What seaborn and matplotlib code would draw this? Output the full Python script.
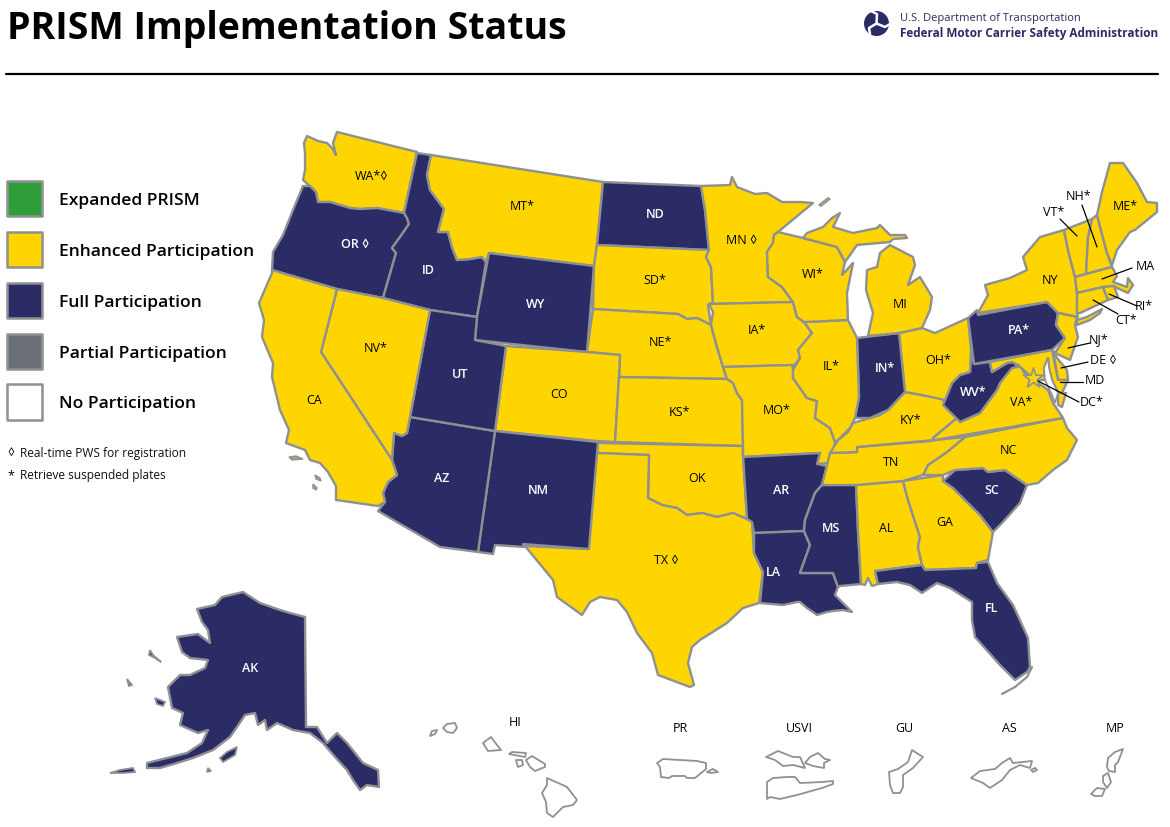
import matplotlib
matplotlib.use("Agg")
import matplotlib.pyplot as plt
import pandas as pd
import seaborn as sns
from matplotlib.patches import Circle

sns.set_theme(style="white")
FONT = ["Open Sans", "DejaVu Sans"]
plt.rcParams["font.family"] = FONT

# ---- categories and legend ----
LEGEND_NAMES = ["Expanded PRISM", "Enhanced Participation", "Full Participation",
                "Partial Participation", "No Participation"]
LEGEND_COLORS = ["#2E9E3A", "#FFD500", "#2B2C66", "#6A6E77", "#FFFFFF"]
LEGEND_Y = [198.5, 249.5, 300.5, 351.5, 402]
FOOTNOTES = ["Real-time PWS for registration", "Retrieve suspended plates"]
FULL = ["OR", "ID", "WY", "ND", "UT", "AZ", "NM", "AR", "LA", "MS", "IN", "WV", "PA", "SC", "FL", "AK"]

# ---- state outlines, in the reference map's own coordinates ----
WA = [(307,136),(318,141),(327,143),(332,148),(336,155),(333,143),(337,132),(417,152),(404,213),(377,208),(360,209),(350,208),(330,202),(318,202),(316,192),(310,186),(303,180),(305,170),(305,153),(304,143)]
OR = [(303,186),(310,186),(316,192),(318,202),(330,202),(350,208),(360,209),(377,208),(404,213),(407,218),(409,224),(400,237),(392,248),(396,253),(383,298),(337,289),(272,270),(273,252),(283,235),(293,210)]
ID = [(417,153),(431,155),(427,175),(430,190),(444,209),(438,232),(448,232),(452,247),(457,260),(470,259),(482,257),(486,262),(477,317),(430,310),(383,298),(396,253),(392,248),(400,237),(409,224),(407,218),(404,213)]
MT = [(431,155),(603,182),(597,245),(594,266),(489,253),(486,262),(482,257),(470,259),(457,260),(452,247),(448,232),(438,232),(444,209),(430,190),(427,175)]
WY = [(489,253),(594,266),(587,352),(475,340),(477,317)]
ND = [(603,182),(701,186),(705,210),(709,250),(597,245)]
SD = [(597,245),(709,250),(706,257),(711,267),(713,303),(708,305),(711,325),(707,323),(697,318),(687,319),(678,314),(593,309),(594,266)]
NE = [(593,309),(678,314),(687,319),(697,318),(707,323),(711,325),(717,347),(723,367),(727,379),(619,377),(620,355),(587,352)]
CO = [(506,346),(587,352),(620,355),(619,377),(615,442),(597,441),(495,431)]
KS = [(619,377),(727,379),(733,383),(737,393),(742,400),(743,446),(615,442)]
OK = [(598,443),(743,446),(743,455),(747,519),(733,513),(717,517),(702,513),(687,515),(677,508),(662,505),(648,498),(649,455),(597,453)]
TX = [(597,453),(649,455),(648,498),(662,505),(677,508),(687,515),(702,513),(717,517),(733,513),(747,519),(752,522),(754,553),(763,572),(759,603),(743,608),(727,623),(700,640),(692,647),(688,663),(694,685),(690,687),(658,675),(652,653),(637,633),(627,612),(617,600),(600,597),(590,602),(582,615),(557,597),(553,580),(525,546),(588,549)]
NM = [(495,431),(598,442),(597,453),(589,549),(523,544),(524,547),(495,545),(493,554),(478,552)]
AZ = [(410,417),(495,431),(478,552),(440,547),(378,511),(385,502),(383,493),(388,482),(397,475),(392,460),(394,433),(402,436),(407,433)]
UT = [(430,310),(477,317),(475,340),(506,346),(495,431),(410,417)]
NV = [(337,289),(383,298),(430,310),(410,417),(407,433),(402,436),(394,433),(392,460),(321,352)]
CA = [(272,270),(337,289),(321,352),(392,460),(397,475),(388,482),(383,493),(385,502),(378,506),(336,500),(336,486),(328,472),(320,463),(310,460),(305,450),(286,443),(289,430),(280,410),(272,377),(273,363),(262,337),(264,320),(259,303),(272,273)]
MN = [(701,186),(730,185),(732,177),(737,187),(755,194),(767,193),(782,202),(800,202),(813,203),(778,232),(774,235),(773,243),(767,252),(768,277),(782,287),(793,302),(709,304),(713,303),(711,267),(706,257),(709,250),(705,210)]
IA = [(709,304),(793,302),(797,317),(805,323),(812,333),(798,350),(800,358),(793,367),(792,365),(723,367),(717,347),(711,325),(713,312)]
MO = [(723,367),(792,365),(793,370),(793,378),(807,398),(817,401),(815,418),(830,428),(835,442),(833,452),(828,463),(817,464),(820,453),(743,457),(743,446),(742,400),(737,393),(733,383),(727,379)]
AR = [(743,457),(820,453),(817,464),(827,466),(822,485),(815,493),(805,520),(804,531),(754,533),(752,522),(747,519),(743,455)]
LA = [(754,533),(804,531),(810,545),(800,573),(833,573),(838,587),(835,595),(842,602),(852,612),(843,610),(833,611),(827,612),(817,615),(807,608),(800,602),(797,602),(783,605),(760,603),(763,572),(754,553)]
MS = [(822,485),(856,485),(858,530),(861,584),(840,586),(838,587),(833,573),(800,573),(810,545),(804,531),(805,520),(815,493)]
AL = [(856,485),(903,481),(908,500),(920,537),(918,547),(922,565),(875,571),(878,584),(872,586),(868,578),(865,585),(861,584),(858,530)]
GA = [(903,481),(943,475),(943,481),(953,488),(980,515),(993,532),(988,560),(977,563),(976,568),(925,570),(922,565),(918,547),(920,537),(908,500)]
FL = [(875,571),(922,565),(925,570),(976,568),(977,563),(988,562),(997,583),(1013,605),(1028,638),(1030,667),(1027,672),(1015,680),(1000,665),(975,637),(972,620),(972,602),(950,588),(937,583),(922,593),(910,585),(897,582),(878,584)]
SC = [(943,481),(955,470),(983,468),(988,472),(1005,470),(1027,485),(1020,503),(1002,523),(993,532),(980,515),(953,488)]
NC = [(923,475),(928,465),(947,452),(965,437),(1063,418),(1067,428),(1077,440),(1067,460),(1053,470),(1038,483),(1027,485),(1005,470),(988,472),(983,468),(955,470),(943,475)]
TN = [(822,485),(830,453),(857,452),(857,447),(930,441),(935,440),(965,437),(947,452),(928,465),(923,475),(903,481),(856,485)]
KY = [(830,453),(838,440),(848,432),(853,423),(880,415),(888,410),(905,392),(922,395),(943,398),(945,407),(957,418),(933,438),(935,440),(857,447),(857,452)]
VA = [(935,440),(1063,418),(1053,403),(1048,390),(1037,382),(1027,377),(1018,363),(1012,362),(1000,383),(997,390),(980,413),(960,422),(957,418),(933,438)]
WV = [(945,400),(952,383),(960,375),(970,372),(971,350),(974,364),(990,362),(992,372),(1007,363),(1013,362),(1018,367),(1012,368),(1000,383),(997,390),(980,413),(960,422),(943,405)]
PA = [(968,318),(977,310),(978,315),(1047,302),(1058,313),(1056,325),(1065,338),(1052,350),(974,364)]
OH = [(899,333),(922,328),(935,333),(968,318),(971,350),(970,372),(960,375),(952,383),(945,400),(922,395),(905,392)]
IN = [(857,338),(899,333),(905,392),(888,410),(870,418),(855,418),(859,397)]
IL = [(804,322),(848,320),(857,338),(859,397),(855,418),(850,428),(838,440),(835,442),(830,428),(815,418),(817,401),(807,398),(793,378),(793,370),(800,358),(798,350),(812,333)]
WI = [(778,232),(803,238),(837,247),(845,262),(842,275),(853,263),(847,293),(848,320),(804,322),(797,317),(793,302),(782,287),(768,277),(767,252),(773,243),(774,235)]
MI_UP = [(803,238),(807,233),(823,227),(832,218),(840,213),(833,227),(843,230),(853,233),(877,228),(880,225),(890,235),(905,235),(907,238),(893,239),(890,242),(857,245),(850,255),(845,262),(837,247)]
MI_LP = [(890,245),(913,257),(915,265),(908,285),(920,277),(932,297),(930,310),(922,328),(899,333),(868,336),(873,313),(866,290),(867,270),(877,267),(880,253)]
NY = [(978,313),(988,295),(985,285),(1010,278),(1027,270),(1023,257),(1040,237),(1064,230),(1068,250),(1075,277),(1077,293),(1077,313),(1078,317),(1058,313),(1047,302)]
LONG_ISLAND = [(1077,320),(1087,317),(1102,309),(1100,313),(1090,320),(1077,325)]
VT = [(1064,230),(1092,219),(1088,238),(1086,274),(1075,277),(1068,250)]
NH = [(1092,219),(1097,215),(1107,253),(1112,267),(1086,274),(1088,238)]
ME = [(1097,215),(1102,192),(1110,163),(1123,163),(1137,183),(1147,202),(1157,203),(1157,212),(1135,230),(1130,232),(1117,250),(1112,265),(1107,253)]
MA = [(1075,277),(1086,274),(1112,267),(1117,276),(1113,282),(1127,287),(1128,278),(1133,285),(1128,293),(1115,287),(1103,287),(1077,293)]
CT = [(1077,293),(1103,287),(1108,300),(1080,313),(1077,313)]
RI = [(1103,287),(1114,286),(1118,297),(1108,300)]
NJ = [(1058,313),(1077,317),(1075,325),(1078,337),(1070,360),(1055,353),(1065,338),(1056,325)]
DE = [(1053,350),(1057,358),(1067,370),(1068,380),(1058,380)]
MD = [(990,362),(1052,350),(1058,380),(1068,380),(1062,393),(1058,393),(1052,380),(1049,368),(1048,358),(1044,368),(1045,380),(1035,380),(1018,365),(1012,362),(1007,363),(992,372)]
VA_SHORE = [(1058,393),(1066,393),(1062,407),(1058,405)]
AK = [(197,609),(215,605),(222,597),(243,592),(260,603),(280,610),(290,613),(305,617),(306,727),(317,727),(327,743),(337,733),(347,743),(363,763),(378,770),(379,787),(367,785),(360,790),(353,780),(347,770),(335,757),(323,743),(310,733),(293,730),(277,723),(267,730),(265,720),(258,725),(255,713),(245,715),(237,727),(230,737),(213,750),(193,758),(177,763),(160,768),(147,768),(147,763),(167,758),(187,753),(202,743),(208,730),(198,733),(180,725),(183,713),(172,708),(168,687),(180,675),(190,675),(205,668),(208,660),(190,658),(182,652),(177,637),(198,634),(210,643),(208,630),(202,622)]

STATES = dict(WA=WA, OR=OR, ID=ID, MT=MT, WY=WY, ND=ND, SD=SD, NE=NE, CO=CO, KS=KS, OK=OK, TX=TX, NM=NM, AZ=AZ,
              UT=UT, NV=NV, CA=CA, MN=MN, IA=IA, MO=MO, AR=AR, LA=LA, MS=MS, AL=AL, GA=GA, FL=FL, SC=SC, NC=NC,
              TN=TN, KY=KY, VA=VA, WV=WV, PA=PA, OH=OH, IN=IN, IL=IL, WI=WI, MI_UP=MI_UP, MI_LP=MI_LP, NY=NY,
              LONG_ISLAND=LONG_ISLAND, VT=VT, NH=NH, ME=ME, MA=MA, CT=CT, RI=RI, NJ=NJ, DE=DE, MD=MD,
              VA_SHORE=VA_SHORE, AK=AK)

ISLE_ROYALE = [(819,205),(828,198),(830,199),(821,206)]
AK_ISLES = [[(220,758),(227,752),(237,747),(235,755),(223,762)],
            [(110,773),(120,770),(133,768),(135,772),(123,773)],
            [(150,650),(153,655),(161,662),(155,658),(149,655)],
            [(155,698),(165,702),(163,706),(157,704)],
            [(127,679),(132,685),(129,686)],
            [(208,768),(211,771),(207,772)]]
CHANNEL_ISLES = [[(289,457),(296,456),(303,459),(292,460)], [(315,475),(320,478),(321,481),(316,479)], [(313,484),(317,488),(316,490),(313,488)]]
BAY = [(1048,358),(1044,368),(1045,380),(1052,395),(1055,403),(1058,393),(1052,380),(1049,368)]
FL_KEYS = [(1032,667),(1027,677),(1015,687),(1002,694)]

TERRITORIES = [
 [(430,736),(432,731),(437,730),(435,734)],
 [(443,728),(447,724),(455,723),(457,728),(453,733),(447,732)],
 [(483,743),(491,737),(497,745),(501,750),(488,751)],
 [(509,754),(512,752),(526,753),(525,757)],
 [(516,760),(522,760),(523,765),(518,767)],
 [(526,760),(532,756),(545,764),(545,767),(535,771),(530,767)],
 [(547,778),(567,787),(577,800),(573,805),(563,807),(553,817),(547,813),(546,802),(542,793),(547,785)],
 [(657,763),(663,759),(697,761),(706,763),(706,769),(695,778),(687,778),(685,776),(672,776),(669,778),(661,777),(660,767)],
 [(707,772),(713,769),(718,772),(711,773)],
 [(766,757),(778,751),(793,757),(800,757),(805,768),(793,765),(783,766),(775,760)],
 [(805,763),(810,757),(818,753),(825,759),(830,760),(824,763),(824,768),(813,766)],
 [(767,799),(767,782),(773,778),(787,777),(795,777),(800,783),(822,782),(833,781),(833,784),(822,788),(797,795),(780,799),(770,797)],
 [(912,750),(923,757),(913,768),(903,775),(903,787),(900,793),(893,793),(890,785),(889,772),(898,769),(908,762)],
 [(971,778),(980,771),(995,769),(1002,763),(1010,758),(1013,763),(1032,761),(1030,768),(1020,765),(1010,770),(1002,780),(990,788),(983,783)],
 [(1031,770),(1035,768),(1037,770),(1033,772)],
 [(1115,752),(1123,749),(1118,762),(1115,765),(1115,772),(1109,771),(1107,767),(1108,758)],
 [(1103,776),(1108,773),(1111,782),(1107,788),(1103,782)],
 [(1091,794),(1097,788),(1105,789),(1102,796),(1095,796)],
]

LEADERS = [((1060,219),(1077,236)), ((1082,205),(1097,247)), ((1132,268),(1102,279)), ((1137,306),(1109,294)),
           ((1118,314),(1093,300)), ((1090,343),(1068,348)), ((1088,362),(1061,368)), ((1083,382),(1060,382)),
           ((1079,402),(1038,381))]

LABELS = [("WA*\u25CA",372,176),("OR \u25CA",355,245),("MT*",522,207),("ID",428,271),("WY",536,304),("ND",655,214),
          ("SD*",655,281),("NE*",660,343),("KS*",680,412),("CO",559,394),("UT",460,374),("NV*",376,349),("CA",314,400),
          ("AZ",442,478),("NM",538,490),("OK",697,478),("TX \u25CA",666,560),("MN \u25CA",742,240),("IA*",757,331),
          ("MO*",777,411),("AR",781,491),("LA",773,572),("MS",831,528),("WI*",813,275),("IL*",831,367),("IN*",885,368),
          ("MI",900,305),("OH*",938,361),("KY*",911,421),("TN",891,463),("AL",886,529),("GA",945,522),("FL",992,609),
          ("SC",992,491),("NC",1008,450),("VA*",1021,402),("WV*",973,393),("PA*",1019,331),("NY",1050,280),
          ("ME*",1125,206),("NH*",1079,197),("VT*",1054,213),("MA",1145,267),("RI*",1144,307),("CT*",1126,320),
          ("NJ*",1099,340),("DE \u25CA",1103,361),("MD",1095,381),("DC*",1092,403),("AK",250,669),("HI",515,723),
          ("PR",680,728),("USVI",799,728),("GU",904,728),("AS",1009,728),("MP",1115,728)]
WHITE_LABELS = ["OR", "ID", "WY", "ND", "UT", "AZ", "NM", "AR", "LA", "MS", "IN", "WV", "PA", "SC", "FL", "AK"]

YELLOW, NAVY, EDGE = LEGEND_COLORS[1], LEGEND_COLORS[2], "#8E9093"

fig = plt.figure(figsize=(11.7, 8.27), dpi=100, facecolor="white")
ax = fig.add_axes([0, 0, 1, 1])
ax.set_xlim(0, 1170)
ax.set_ylim(827, 0)
ax.axis("off")

for code, pts in STATES.items():
    ax.fill(*zip(*pts), facecolor=NAVY if code in FULL else YELLOW, edgecolor=EDGE, lw=1.7, joinstyle="round", zorder=2)
ax.fill(*zip(*ISLE_ROYALE), facecolor=YELLOW, edgecolor=EDGE, lw=1.2, zorder=2)
for pts in AK_ISLES:
    ax.fill(*zip(*pts), facecolor=NAVY, edgecolor=EDGE, lw=1.3, zorder=2)
for pts in CHANNEL_ISLES:
    ax.fill(*zip(*pts), facecolor="#A89F70", edgecolor=EDGE, lw=1.0, zorder=2)
ax.fill(*zip(*BAY), facecolor="white", edgecolor=EDGE, lw=1.2, zorder=3)
ax.plot(*zip(*FL_KEYS), color=EDGE, lw=1.6, zorder=2)
for pts in TERRITORIES:
    ax.fill(*zip(*pts), facecolor="white", edgecolor=EDGE, lw=1.3, joinstyle="round", zorder=2)

# DC star
sns.scatterplot(x=[1033], y=[378], marker="*", s=230, color=YELLOW, edgecolor=EDGE, linewidth=1.2, ax=ax, zorder=4, legend=False)

for (a, b) in LEADERS:
    ax.plot([a[0], b[0]], [a[1], b[1]], color="black", lw=0.9, zorder=5)
for text, x, y in LABELS:
    code = text.replace("*", "").replace("\u25CA", "").strip()
    ax.text(x, y, text, ha="center", va="center", fontsize=9, family=FONT, zorder=6,
            color="white" if code in WHITE_LABELS else "black",
            fontweight="semibold" if code in WHITE_LABELS else "normal")

# legend
legend_df = pd.DataFrame({"name": LEGEND_NAMES, "y": LEGEND_Y, "x": [24.5] * 5})
sns.scatterplot(data=legend_df, x="x", y="y", hue="name", palette=dict(zip(LEGEND_NAMES, LEGEND_COLORS)),
                marker="s", s=660, edgecolor=EDGE, linewidth=1.8, ax=ax, legend=False, zorder=3)
for name, y in zip(LEGEND_NAMES, LEGEND_Y):
    ax.text(59, y + 2.5, name, ha="left", va="center", fontsize=12.6, color="black", family=FONT, fontweight="semibold")
ax.text(7, 453, "\u25CA", ha="left", va="center", fontsize=8.6, color="black", family=FONT)
ax.text(20, 453, FOOTNOTES[0], ha="left", va="center", fontsize=8.6, color="#111111", family=FONT)
ax.text(7, 476, "*", ha="left", va="center", fontsize=9, color="black", family=FONT)
ax.text(20, 475, FOOTNOTES[1], ha="left", va="center", fontsize=8.6, color="#111111", family=FONT)

# header
ax.text(7, 29, "PRISM Implementation Status", ha="left", va="center", fontsize=27, fontweight="bold", color="black", family=FONT)
ax.plot([6, 1158], [74, 74], color="black", lw=1.6)
ax.add_patch(Circle((876.5, 23.5), 12.5, facecolor=NAVY, edgecolor="none"))
ax.plot([876.5, 877, 871], [23.5, 14, 11], color="white", lw=1.8, zorder=3)
ax.plot([876.5, 885, 890], [23.5, 27, 24], color="white", lw=1.8, zorder=3)
ax.plot([876.5, 869, 870], [23.5, 28, 34], color="white", lw=1.8, zorder=3)
ax.text(900, 18, "U.S. Department of Transportation", ha="left", va="center", fontsize=8, color=NAVY, family=FONT)
ax.text(900, 34, "Federal Motor Carrier Safety Administration", ha="left", va="center", fontsize=8.5, fontweight="bold", color=NAVY, family=FONT)

fig.savefig("out.png", dpi=100)
